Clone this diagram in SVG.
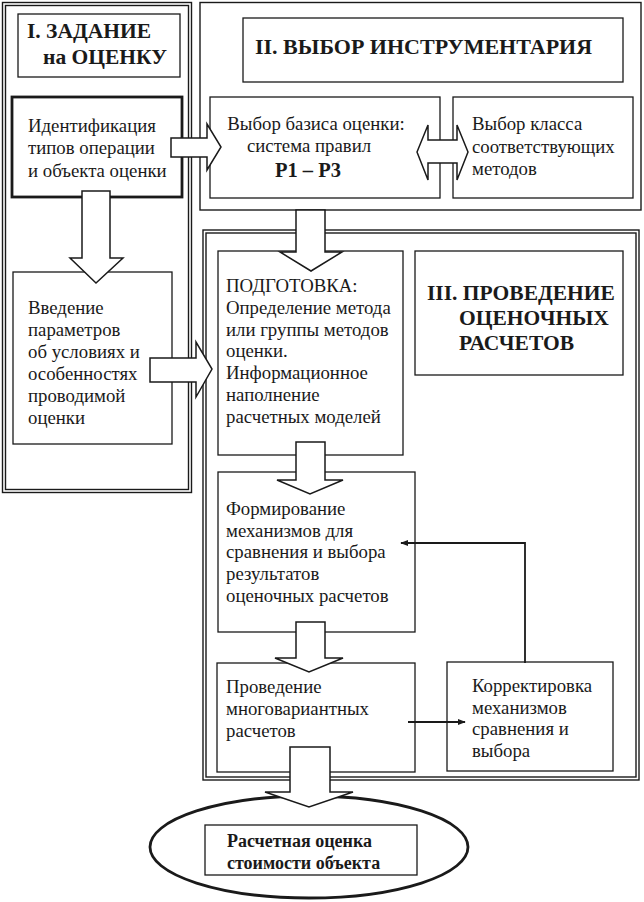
<svg xmlns="http://www.w3.org/2000/svg" width="644" height="902" viewBox="0 0 644 902" font-family="'Liberation Serif', 'DejaVu Serif', serif">
<style>
.frame{fill:none;stroke:#1a1a1a;stroke-width:1.4}
.box{fill:#fff;stroke:#1a1a1a;stroke-width:1.3}
.thick{fill:#fff;stroke:#1a1a1a;stroke-width:2.8}
.barrow{fill:#fff;stroke:#1a1a1a;stroke-width:1.5;stroke-linejoin:miter}
.line{fill:none;stroke:#1a1a1a;stroke-width:1.8}
text{fill:#1a1a1a}
.t{font-size:18.8px}
.h{font-size:21.5px;font-weight:bold}
.b{font-size:18px;font-weight:bold}
</style>
<defs>
<marker id="ah" viewBox="0 0 10 10" refX="9" refY="5" markerWidth="8" markerHeight="8" markerUnits="userSpaceOnUse" orient="auto">
<path d="M0,1 L10,5 L0,9 Z" fill="#1a1a1a"/>
</marker>
</defs>
<rect width="644" height="902" fill="#fff"/>

<g id="section1">
<rect class="frame" x="2.5" y="2.5" width="189" height="490"/>
<rect class="frame" x="5.5" y="5.5" width="183" height="484"/>
</g>
<g id="section2">
<rect class="frame" x="200" y="2.5" width="441" height="207.5"/>
</g>
<g id="section3">
<rect class="frame" x="203" y="230" width="436" height="550"/>
<rect class="frame" x="206" y="233" width="430" height="544"/>
</g>

<g id="title1">
<rect class="box" x="18" y="14" width="162" height="63"/>
<text class="h" x="27" y="38">I. ЗАДАНИЕ</text>
<text class="h" x="43" y="64">на ОЦЕНКУ</text>
</g>
<g id="ident">
<rect class="thick" x="12" y="97" width="170" height="100"/>
<text class="t" x="28" y="132">Идентификация</text>
<text class="t" x="28" y="154">типов операции</text>
<text class="t" x="28" y="177">и объекта оценки</text>
</g>
<g id="input">
<rect class="box" x="13" y="272" width="159" height="172"/>
<text class="t" x="28" y="314">Введение</text>
<text class="t" x="28" y="336">параметров</text>
<text class="t" x="28" y="358">об условиях и</text>
<text class="t" x="28" y="380">особенностях</text>
<text class="t" x="28" y="402">проводимой</text>
<text class="t" x="28" y="424">оценки</text>
</g>

<g id="title2">
<rect class="box" x="243" y="18" width="380" height="64"/>
<text class="h" x="255" y="54" style="font-size:22px">II. ВЫБОР ИНСТРУМЕНТАРИЯ</text>
</g>
<g id="basis">
<rect class="box" x="210" y="97" width="230" height="101"/>
<text class="t" x="316" y="130" text-anchor="middle">Выбор базиса оценки:</text>
<text class="t" x="309" y="152" text-anchor="middle">система правил</text>
<text class="b" x="308" y="177" text-anchor="middle" style="font-size:20.5px">Р1 – Р3</text>
</g>
<g id="class">
<rect class="box" x="453" y="97" width="180" height="101"/>
<text class="t" x="472" y="130">Выбор класса</text>
<text class="t" x="472" y="153">соответствующих</text>
<text class="t" x="472" y="175">методов</text>
</g>

<g id="title3">
<rect class="box" x="415" y="251" width="208" height="124"/>
<text class="h" x="427" y="300">III. ПРОВЕДЕНИЕ</text>
<text class="h" x="459" y="325">ОЦЕНОЧНЫХ</text>
<text class="h" x="459" y="350">РАСЧЕТОВ</text>
</g>
<g id="prep">
<rect class="box" x="218" y="251" width="185" height="204"/>
<text class="t" x="226" y="292">ПОДГОТОВКА:</text>
<text class="t" x="226" y="314">Определение метода</text>
<text class="t" x="226" y="336">или группы методов</text>
<text class="t" x="226" y="357">оценки.</text>
<text class="t" x="226" y="379">Информационное</text>
<text class="t" x="226" y="401">наполнение</text>
<text class="t" x="226" y="423">расчетных моделей</text>
</g>
<g id="form">
<rect class="box" x="218" y="472" width="197" height="160"/>
<text class="t" x="226" y="515">Формирование</text>
<text class="t" x="226" y="537">механизмов для</text>
<text class="t" x="226" y="558">сравнения и выбора</text>
<text class="t" x="226" y="580">результатов</text>
<text class="t" x="226" y="602">оценочных расчетов</text>
</g>
<g id="calc">
<rect class="box" x="217" y="663" width="198" height="109"/>
<text class="t" x="226" y="693">Проведение</text>
<text class="t" x="226" y="715">многовариантных</text>
<text class="t" x="226" y="737">расчетов</text>
</g>
<g id="correct">
<rect class="box" x="447" y="662" width="166" height="109"/>
<text class="t" x="472" y="692">Корректировка</text>
<text class="t" x="472" y="714">механизмов</text>
<text class="t" x="472" y="735">сравнения и</text>
<text class="t" x="472" y="757">выбора</text>
</g>
<g id="result">
<ellipse cx="309" cy="847" rx="159" ry="51" fill="#fff" stroke="#1a1a1a" stroke-width="2.8"/>
<rect class="box" x="205" y="825" width="212" height="50"/>
<text class="b" x="227" y="847">Расчетная оценка</text>
<text class="b" x="227" y="869">стоимости объекта</text>
</g>

<g id="connectors">
<polygon class="barrow" points="171,138 207,138 207,124 221,147 207,170 207,157 171,157"/>
<polygon class="barrow" points="417,152 428,125 428,140 457,140 457,125 468,152 457,180 457,163 428,163 428,180"/>
<polygon class="barrow" points="82,191 110,191 110,258 123,258 96,283 70,258 82,258"/>
<polygon class="barrow" points="150,358 196,358 196,342 212,369 196,397 196,382 150,382"/>
<polygon class="barrow" points="296,210 325,210 325,252 342,252 311,271 280,252 296,252"/>
<polygon class="barrow" points="296,442 325,442 325,480 343,480 310,494 277,480 296,480"/>
<polygon class="barrow" points="296,622 325,622 325,658 343,658 309,672 275,658 296,658"/>
<polygon class="barrow" points="290,747 330,747 330,792 353,792 309,807 265,792 290,792"/>
<line class="line" x1="408" y1="722" x2="465" y2="722" marker-end="url(#ah)"/>
<polyline class="line" points="525,663 525,543 401,543" marker-end="url(#ah)"/>
</g>
</svg>
